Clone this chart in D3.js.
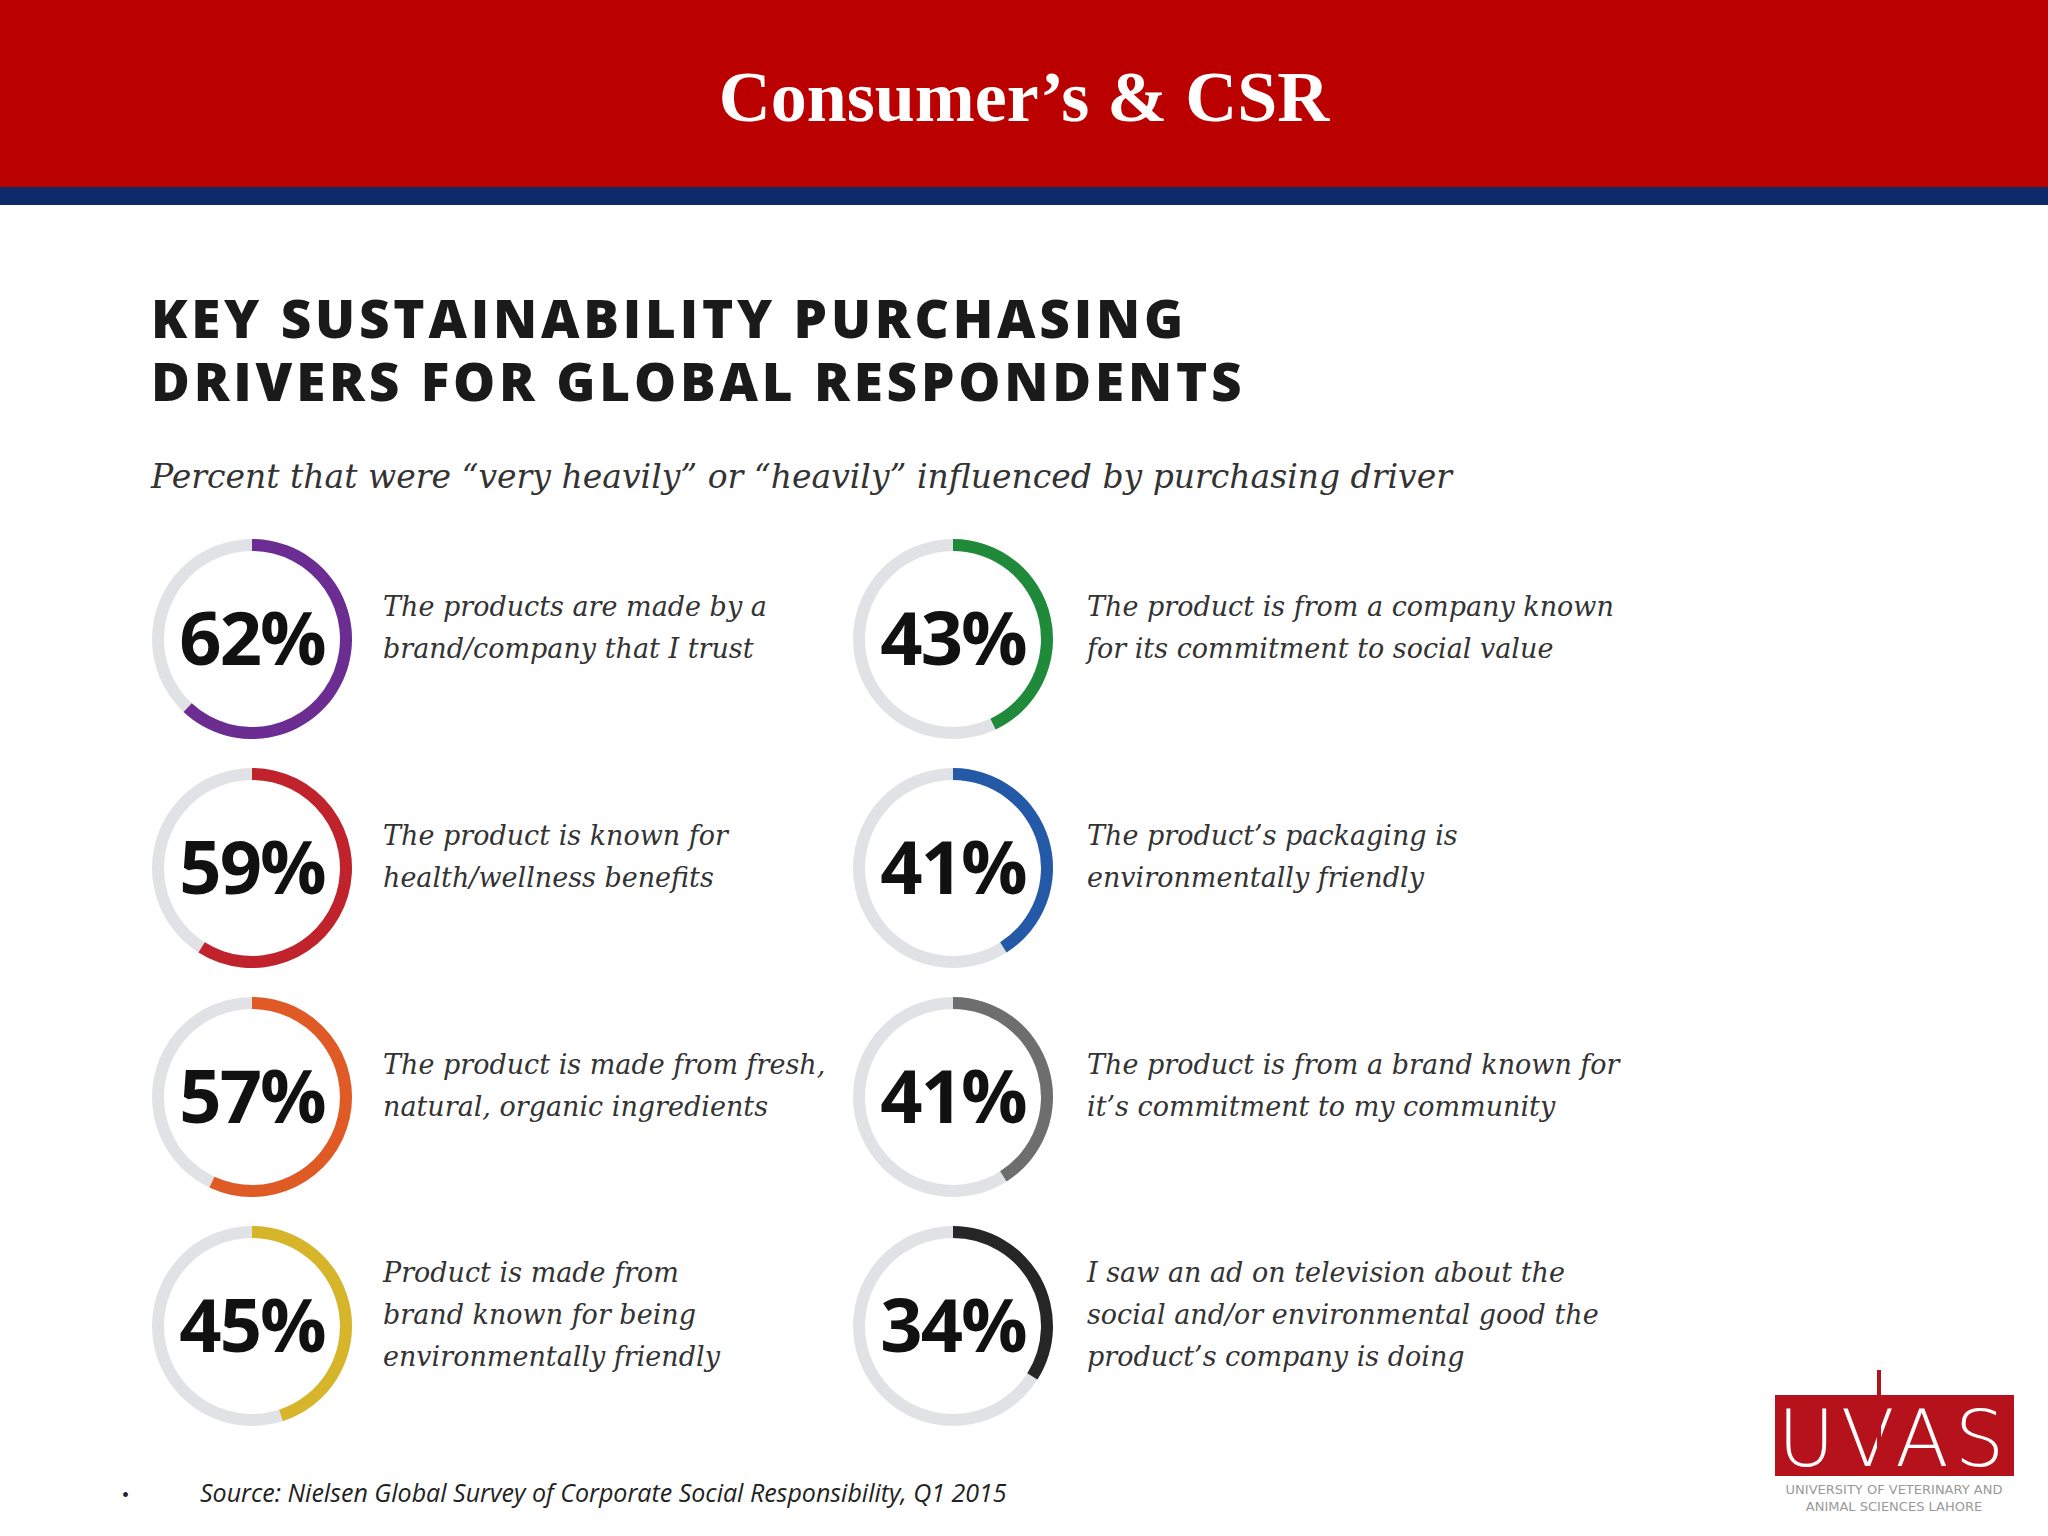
<!DOCTYPE html>
<html><head><meta charset="utf-8">
<script src="https://cdn.jsdelivr.net/npm/d3@7"></script>
<style>body{margin:0;background:#fff}svg{display:block}</style>
</head><body>
<script>
const percents = [62, 59, 57, 45, 43, 41, 41, 34];
const labels = [
  ["The products are made by a","brand/company that I trust"],
  ["The product is known for","health/wellness benefits"],
  ["The product is made from fresh,","natural, organic ingredients"],
  ["Product is made from","brand known for being","environmentally friendly"],
  ["The product is from a company known","for its commitment to social value"],
  ["The product’s packaging is","environmentally friendly"],
  ["The product is from a brand known for","it’s commitment to my community"],
  ["I saw an ad on television about the","social and/or environmental good the","product’s company is doing"]
];
const colors = ["#6b2d92","#c0232b","#e05a26","#d6b52a","#1f8a3a","#2459a8","#6e6e6e","#262626"];
const W=2048,H=1536;
const svg=d3.select("body").append("svg").attr("width",W).attr("height",H);
svg.append("rect").attr("width",W).attr("height",187).attr("fill","#bb0000");
svg.append("rect").attr("y",187).attr("width",W).attr("height",18).attr("fill","#0f2a6b");
svg.append("text").attr("x",1024).attr("y",121).attr("text-anchor","middle").attr("fill","#fff")
  .attr("font-family","Liberation Serif, serif").attr("font-weight","bold").attr("font-size",72).text("Consumer’s & CSR");
const hd=svg.append("g").attr("font-family","Open Sans, sans-serif").attr("font-weight",800).attr("font-size",53).attr("fill","#1a1a1a").attr("letter-spacing",3.8);
hd.append("text").attr("x",151).attr("y",338).text("KEY SUSTAINABILITY PURCHASING");
hd.append("text").attr("x",151).attr("y",401).text("DRIVERS FOR GLOBAL RESPONDENTS");
svg.append("text").attr("x",151).attr("y",488).attr("font-family","DejaVu Serif, serif").attr("font-style","italic")
  .attr("font-size",33).attr("fill","#333").text("Percent that were “very heavily” or “heavily” influenced by purchasing driver");
const col=d3.scaleOrdinal().domain([0,1]).range([252,953]);
const row=d3.scalePoint().domain([0,1,2,3]).range([639,1326]);
const ang=d3.scaleLinear().domain([0,100]).range([0,2*Math.PI]);
const arc=d3.arc().innerRadius(88).outerRadius(100);
percents.forEach((p,i)=>{
  const c=Math.floor(i/4), r=i%4;
  const g=svg.append("g").attr("transform",`translate(${col(c)},${row(r)})`);
  g.append("path").attr("d",arc({startAngle:0,endAngle:2*Math.PI})).attr("fill","#e0e2e5");
  g.append("path").attr("d",arc({startAngle:0,endAngle:ang(p)})).attr("fill",colors[i]);
  g.append("text").attr("text-anchor","middle").attr("y",26).attr("font-family","Open Sans, sans-serif")
    .attr("font-weight",700).attr("font-size",74).attr("fill","#111").attr("letter-spacing",-2).text(p+"%");
  const lx = c===0 ? 383 : 1087;
  const ls=labels[i], n=ls.length;
  ls.forEach((t,k)=>{
    svg.append("text").attr("x",lx).attr("y",row(r)-2+(k-(n-1)/2)*42)
      .attr("font-family","DejaVu Serif, serif").attr("font-style","italic").attr("font-size",27)
      .attr("fill","#333").text(t);
  });
});
svg.append("text").attr("x",122).attr("y",1502).attr("font-size",20).attr("fill","#222").text("•");
svg.append("text").attr("x",200).attr("y",1502).attr("font-family","Open Sans, sans-serif").attr("font-style","italic")
  .attr("font-size",25).attr("fill","#222").text("Source: Nielsen Global Survey of Corporate Social Responsibility, Q1 2015");
const lg=svg.append("g");
lg.append("rect").attr("x",1775).attr("y",1395).attr("width",239).attr("height",81).attr("fill","#b5121b");
lg.append("text").attr("x",1894).attr("y",1466).attr("text-anchor","middle").attr("font-family","DejaVu Sans, sans-serif")
  .attr("font-weight",200).attr("font-size",78).attr("fill","#fff").attr("letter-spacing",6).text("UVAS");
lg.append("rect").attr("x",1877).attr("y",1370).attr("width",4).attr("height",100).attr("fill","#b5121b");
lg.append("text").attr("x",1894).attr("y",1494).attr("text-anchor","middle").attr("font-family","DejaVu Sans, sans-serif")
  .attr("font-size",13).attr("fill","#999").text("UNIVERSITY OF VETERINARY AND");
lg.append("text").attr("x",1894).attr("y",1511).attr("text-anchor","middle").attr("font-family","DejaVu Sans, sans-serif")
  .attr("font-size",13).attr("fill","#999").text("ANIMAL SCIENCES LAHORE");
</script>
</body></html>
